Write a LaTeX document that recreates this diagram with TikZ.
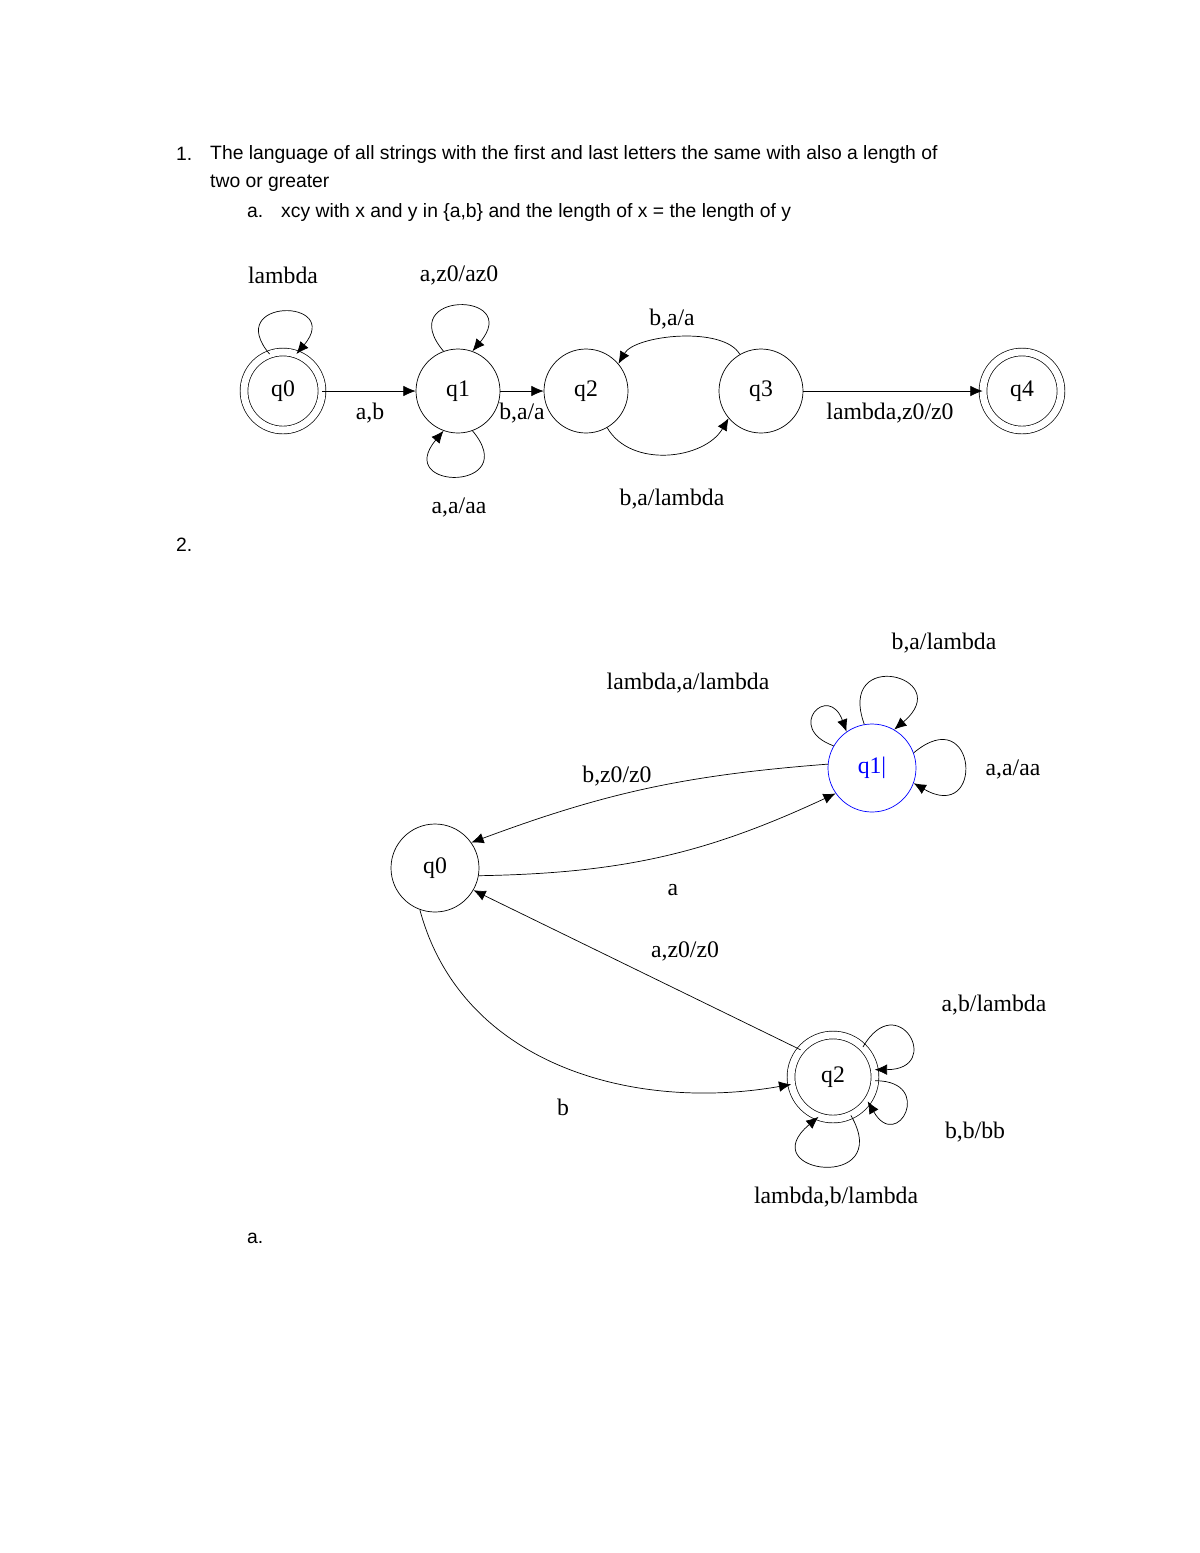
\documentclass[tikz,border=0pt]{standalone}
\usepackage{fontspec}
\setmainfont{Liberation Serif}
\newfontfamily\txt{Liberation Sans}
\usetikzlibrary{arrows.meta}
\begin{document}
\begin{tikzpicture}[x=0.02cm,y=-0.02cm,
  st/.style={circle,draw,minimum size=84*0.02cm,inner sep=0pt,font=\fontsize{13.5}{14}\selectfont},
  acc/.style={st,double,double distance=4pt},
  lb/.style={font=\fontsize{13.5}{14}\selectfont},
  tx/.style={anchor=west,font=\txt\fontsize{11}{13}\selectfont},
  ar/.style={-{Latex[length=7pt,width=6pt]},thin},
  lp/.style={ar,looseness=7}]
\useasboundingbox (0,0) rectangle (1200,1553);
\node[tx] (t1) at (170,154) {1.};
\node[tx] (t2) at (204,154) {The language of all strings with the first and last letters the same with also a length of};
\node[tx] (t3) at (204,183) {two or greater};
\node[tx] (t4) at (241,212) {a.};
\node[tx] (t5) at (275,212) {xcy with x and y in \{a,b\} and the length of x = the length of y};
\node[tx] (t6) at (170,545) {2.};
\node[tx] (t7) at (241,1238) {a.};
% diagram 1
\node[acc,minimum size=78*0.02cm] (a0) at (283,391) {q0};
\node[st] (a1) at (458,391) {q1};
\node[st] (a2) at (586,391) {q2};
\node[st] (a3) at (761,391) {q3};
\node[acc,minimum size=78*0.02cm] (a4) at (1022,391) {q4};
\draw[lp] (a0.110) to[out=130,in=50] (a0.70);
\node[lb] (l1) at (283,275) {lambda};
\draw[lp] (a1.110) to[out=130,in=50] (a1.70);
\node[lb] (l2) at (459,275) {a,z0/az0};
\draw[lp] (a1.-70) to[out=-50,in=-130] (a1.-110);
\node[lb] (l3) at (459,507) {a,a/aa};
\draw[ar] (a0) -- (a1);
\node[lb] (l4) at (370,413) {a,b};
\draw[ar] (a1) -- (a2);
\node[lb] (l5) at (522,413) {b,a/a};
\draw[ar] (a3.120) to[out=120,in=60,looseness=0.7] (a2.40);
\node[lb] (l6) at (672,319) {b,a/a};
\draw[ar] (a2.-60) to[out=-60,in=-120,looseness=1] (a3.-140);
\node[lb] (l7) at (672,499) {b,a/lambda};
\draw[ar] (a3) -- (a4);
\node[lb] (l8) at (890,413) {lambda,z0/z0};
% diagram 2
\node[st,draw=blue,text=blue,minimum size=88*0.02cm] (b1) at (872,768) {q1|};
\node[st,minimum size=88*0.02cm] (b0) at (435,868) {q0};
\node[acc,minimum size=84*0.02cm] (b2) at (833,1077) {q2};
\draw[lp] (b1.150) to[out=160,in=110] (b1.125);
\node[lb] (m1) at (688,683) {lambda,a/lambda};
\draw[lp] (b1.100) to[out=110,in=40] (b1.60);
\node[lb] (m2) at (944,643) {b,a/lambda};
\draw[lp] (b1.20) to[out=40,in=-30] (b1.-20);
\node[lb] (m3) at (1013,769) {a,a/aa};
\draw[ar] (b1.175) to[bend right=8] (b0.35);
\node[lb] (m4) at (617,776) {b,z0/z0};
\draw[ar] (b0.-10) to[bend right=12] (b1.-145);
\node[lb] (m5) at (673,890) {a};
\draw[ar] (b2.140) -- (b0.-30);
\node[lb] (m6) at (685,951) {a,z0/z0};
\draw[ar] (b0.-110) to[out=-75,in=190,looseness=1] (b2.190);
\node[lb] (m7) at (563,1107) {b};
\draw[lp] (b2.45) to[out=60,in=0] (b2.10);
\node[lb] (m8) at (994,1005) {a,b/lambda};
\draw[lp] (b2.-5) to[out=0,in=-60] (b2.-35);
\node[lb] (m9) at (975,1132) {b,b/bb};
\draw[lp] (b2.-65) to[out=-60,in=-140] (b2.-110);
\node[lb] (m10) at (836,1197) {lambda,b/lambda};
\end{tikzpicture}
\end{document}
